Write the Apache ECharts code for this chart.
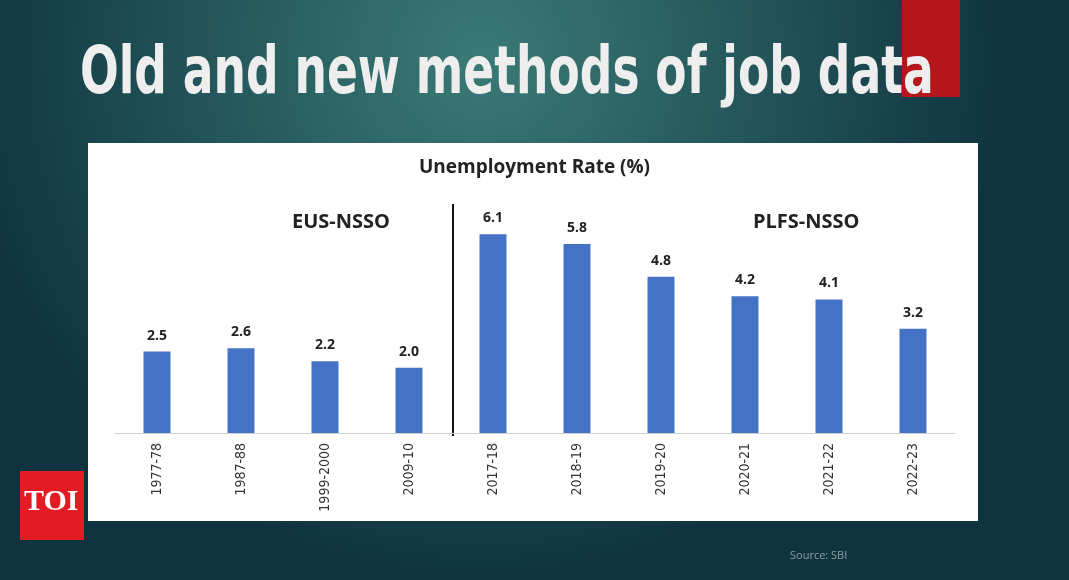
<!DOCTYPE html>
<html><head><meta charset="utf-8">
<script src="https://cdn.jsdelivr.net/npm/echarts@6/dist/echarts.min.js"></script>
<style>html,body{margin:0;padding:0;}#main{width:1069px;height:580px;}</style>
</head><body><div id="main"></div>
<script>
var years = ['1977-78','1987-88','1999-2000','2009-10','2017-18','2018-19','2019-20','2020-21','2021-22','2022-23'];
var rates = [2.5, 2.6, 2.2, 2.0, 6.1, 5.8, 4.8, 4.2, 4.1, 3.2];

var myChart = echarts.init(document.getElementById('main'));

var option = {
    backgroundColor: {
        type: 'radial', x: 0.45, y: 0.1, r: 0.9,
        colorStops: [{offset: 0, color: '#3a7a76'}, {offset: 1, color: '#0f3440'}]
    },
    graphic: [
        {type: 'rect', z: -10, shape: {x: 902, y: 0, width: 58, height: 97}, style: {fill: '#b3171a'}},
        {type: 'text', z: 10, x: 80, y: 44, scaleX: 0.735, scaleY: 1.05, style: {
            text: 'Old and new methods of job data', fill: '#eeeeee',
            font: 'bold 62px "DejaVu Sans", sans-serif'}},
        {type: 'rect', z: -5, shape: {x: 88, y: 143, width: 890, height: 378}, style: {fill: '#ffffff'}},
        {type: 'text', left: 'center', top: 158, style: {
            text: 'Unemployment Rate (%)', fill: '#222', font: 'bold 19px "Open Sans", sans-serif'}},
        {type: 'text', left: 292, top: 212, style: {text: 'EUS-NSSO', fill: '#222', font: 'bold 20px "Open Sans", sans-serif'}},
        {type: 'text', left: 753, top: 212, style: {text: 'PLFS-NSSO', fill: '#222', font: 'bold 20px "Open Sans", sans-serif'}},
        {type: 'line', shape: {x1: 453, y1: 204, x2: 453, y2: 436}, style: {stroke: '#111', lineWidth: 2}},
        {type: 'rect', shape: {x: 20, y: 471, width: 64, height: 69}, style: {fill: '#e31b23'}},
        {type: 'text', left: 24, top: 487, style: {text: 'TOI', fill: '#fff', font: 'bold 30px "Liberation Serif", serif'}},
        {type: 'text', left: 790, top: 550, style: {text: 'Source: SBI', fill: '#8aa0a4', font: '11px "Open Sans", sans-serif'}}
    ],
    grid: {left: 115, right: 114, top: 205, bottom: 147},
    xAxis: {
        type: 'category', data: years,
        axisLine: {lineStyle: {color: '#d0d0d0'}},
        axisTick: {show: false},
        axisLabel: {rotate: 90, color: '#333', fontSize: 14, margin: 10,
            fontFamily: '"DejaVu Sans Condensed", "Liberation Sans", sans-serif'}
    },
    yAxis: {type: 'value', min: 0, max: 7, show: false, splitLine: {show: false}},
    series: [{
        type: 'bar', data: rates, barWidth: 27,
        itemStyle: {color: '#4472c4'},
        label: {show: true, position: 'top', distance: 9, color: '#222', fontSize: 14,
            fontWeight: 'bold', fontFamily: '"Open Sans", sans-serif',
            formatter: function (p) { return p.value.toFixed(1); }}
    }]
};
myChart.setOption(option);
</script></body></html>
